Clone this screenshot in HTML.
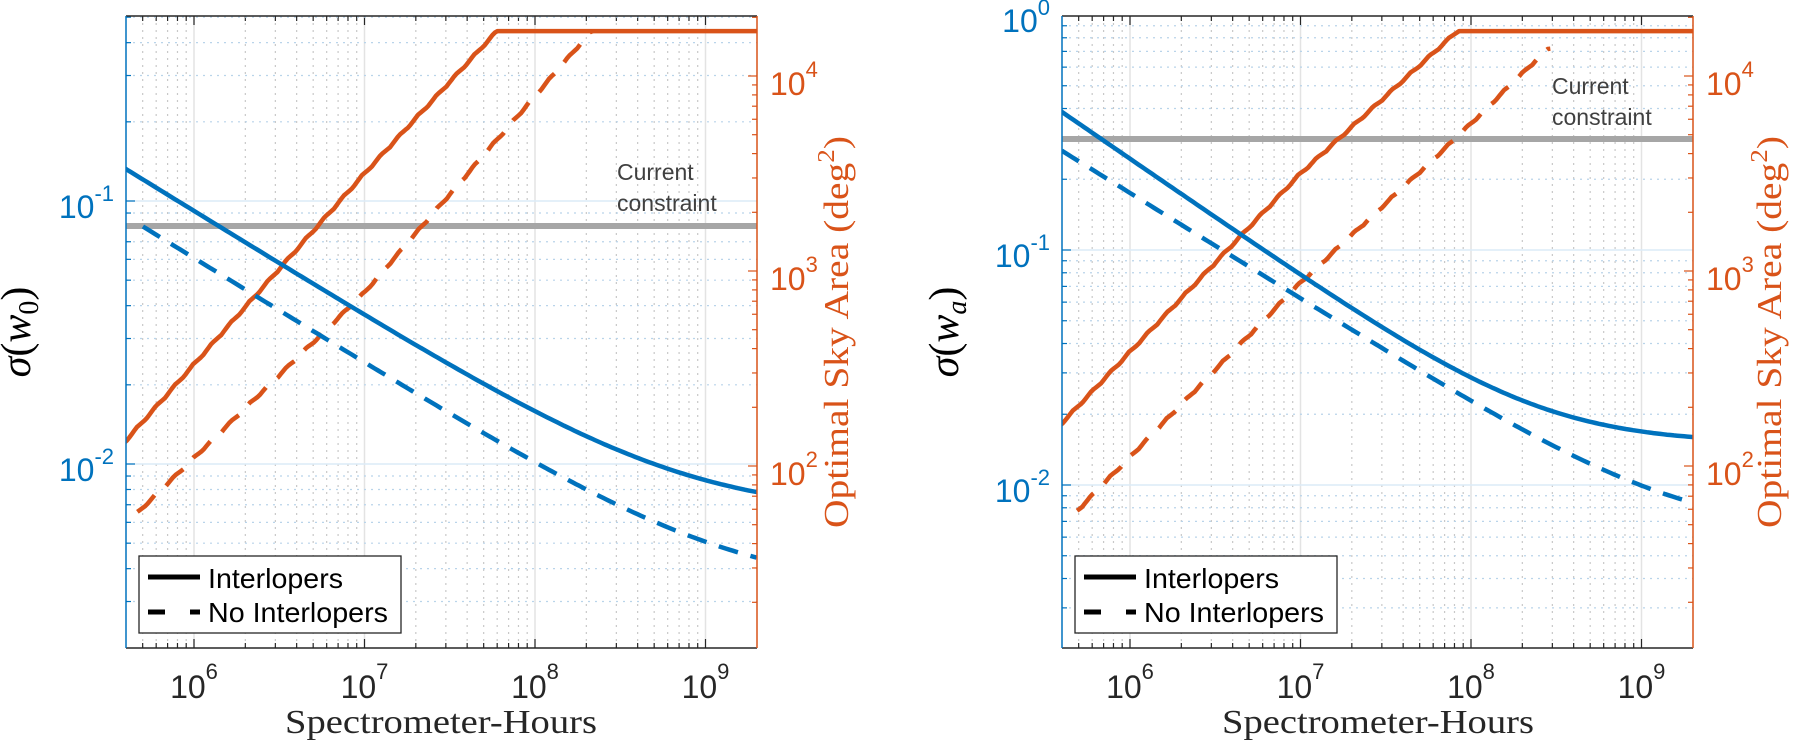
<!DOCTYPE html>
<html><head><meta charset="utf-8">
<style>html,body{margin:0;padding:0;background:#fff;}svg{display:block}</style>
</head><body>
<svg id="s" xmlns="http://www.w3.org/2000/svg" width="1800" height="746" viewBox="0 0 1800 746"></svg>
<script>
const S=document.getElementById('s');
let out='';
const BLUE='#0072BD',OR='#D95319';
function lg(v){return Math.log10(v);}
function plot(P){
  const X=L=>P.x0+(L-6)*170.5;
  const YL=L=>P.yl0-P.dec*(L+1);
  const YR=L=>76-195*(L-4);
  const xl=P.xa,xr=P.xb,yt=16,yb=648;
  let g='';
  for(let n=5;n<=9;n++)for(let k=1;k<10;k++){
    const L=n+lg(k),x=X(L); if(x<xl+1||x>xr-1)continue;
    if(k==1) g+=`<line x1="${x}" y1="${yt}" x2="${x}" y2="${yb}" stroke="#e3e3e3" stroke-width="1.5"/>`;
    else g+=`<line x1="${x}" y1="${yt}" x2="${x}" y2="${yb}" stroke="#c8c8c8" stroke-width="1.2" stroke-dasharray="2 5"/>`;
    const tl=k==1?9:5;
    g+=`<line x1="${x}" y1="${yb}" x2="${x}" y2="${yb-tl}" stroke="#262626" stroke-width="1.2"/><line x1="${x}" y1="${yt}" x2="${x}" y2="${yt+tl}" stroke="#262626" stroke-width="1.2"/>`;
  }
  for(let n=-3;n<=0;n++)for(let k=1;k<10;k++){
    const L=n+lg(k),y=YL(L); if(y<yt+1||y>yb-1)continue;
    if(k==1) g+=`<line x1="${xl}" y1="${y}" x2="${xr}" y2="${y}" stroke="#dcebf7" stroke-width="1.5"/>`;
    else g+=`<line x1="${xl}" y1="${y}" x2="${xr}" y2="${y}" stroke="#b9d4ea" stroke-width="1.2" stroke-dasharray="2 5"/>`;
    const tl=k==1?9:5;
    g+=`<line x1="${xl}" y1="${y}" x2="${xl+tl}" y2="${y}" stroke="${BLUE}" stroke-width="1.2"/>`;
  }
  for(let n=1;n<=4;n++)for(let k=1;k<10;k++){
    const L=n+lg(k),y=YR(L); if(y<yt+1||y>yb-1)continue;
    const tl=k==1?9:5;
    g+=`<line x1="${xr}" y1="${y}" x2="${xr-tl}" y2="${y}" stroke="${OR}" stroke-width="1.2"/>`;
  }
  const clip=`clip-path="url(#c${P.id})"`;
  g+=`<defs><clipPath id="c${P.id}"><rect x="${xl}" y="${yt}" width="${xr-xl}" height="${yb-yt}"/></clipPath></defs>`;
  g+=`<line x1="${xl}" y1="${P.gray}" x2="${xr}" y2="${P.gray}" stroke="#a6a6a6" stroke-width="6"/>`;
  function blue(a,p,c,L0,dash){
    let pts=[];
    for(let L=L0;L<=9.31;L+=0.02){const x=Math.pow(10,L);const s=Math.sqrt(a*Math.pow(x,-p)+c);pts.push(X(L).toFixed(1)+','+YL(lg(s)).toFixed(1));}
    g+=`<polyline ${clip} points="${pts.join(' ')}" fill="none" stroke="${BLUE}" stroke-width="4.5" ${dash?'stroke-dasharray="20 13"':''}/>`;
  }
  function orange(nodes,dash){
    let pts=[];
    const Lend=nodes[nodes.length-1][0];
    for(let L=nodes[0][0];L<=9.31;L+=0.015){
      let v;
      if(L>=Lend){v=nodes[nodes.length-1][1];}
      else{for(let i=0;i<nodes.length-1;i++){if(L>=nodes[i][0]&&L<=nodes[i+1][0]){const t=(L-nodes[i][0])/(nodes[i+1][0]-nodes[i][0]);v=nodes[i][1]+t*(nodes[i+1][1]-nodes[i][1]);}}
        const ph=(L/0.11)%1; v+=0.012*(ph<0.5?ph*2-0.5:1.5-ph*2);}
      pts.push(X(L).toFixed(1)+','+YR(v).toFixed(1));
      if(dash&&L>=Lend)break;
    }
    g+=`<polyline ${clip} points="${pts.join(' ')}" fill="none" stroke="${OR}" stroke-width="4.5" stroke-linejoin="round" ${dash?'stroke-dasharray="24 15"':''}/>`;
  }
  orange(P.os,false);orange(P.od,true);
  blue(...P.bs,5.59,false);blue(...P.bd,P.bdL,true);
  g+=`<line x1="${xl}" y1="${yt}" x2="${xr}" y2="${yt}" stroke="#262626" stroke-width="1.5"/>`;
  g+=`<line x1="${xl}" y1="${yb}" x2="${xr}" y2="${yb}" stroke="#262626" stroke-width="1.5"/>`;
  g+=`<line x1="${xl}" y1="${yt}" x2="${xl}" y2="${yb}" stroke="${BLUE}" stroke-width="1.5"/>`;
  g+=`<line x1="${xr}" y1="${yt}" x2="${xr}" y2="${yb}" stroke="${OR}" stroke-width="1.5"/>`;
  const F='font-family="Liberation Sans, sans-serif"';
  for(let n=6;n<=9;n++){g+=`<text x="${X(n)}" y="698" ${F} font-size="32" fill="#262626" text-anchor="middle">10<tspan font-size="22" dy="-19">${n}</tspan></text>`;}
  for(const n of P.yt){const y=YL(n);g+=`<text x="${xl-12}" y="${y+17}" ${F} font-size="32" fill="${BLUE}" text-anchor="end">10<tspan font-size="22" dy="-17">${n}</tspan></text>`;}
  for(const n of [2,3,4]){const y=YR(n);g+=`<text x="${xr+13}" y="${y+19}" ${F} font-size="32" fill="${OR}">10<tspan font-size="22" dy="-18">${n}</tspan></text>`;}
  g+=`<text x="${P.xlc}" y="733" font-family="Liberation Serif, serif" font-size="34" fill="#262626" text-anchor="middle" textLength="312" lengthAdjust="spacingAndGlyphs">Spectrometer-Hours</text>`;
  g+=`<text transform="translate(${P.ylx},332) rotate(-90)" font-family="Liberation Serif, serif" font-size="42" fill="#000" text-anchor="middle"><tspan font-style="italic">σ</tspan>(<tspan font-style="italic">w</tspan><tspan font-size="28" dy="8" ${P.sub=='a'?'font-style="italic"':''}>${P.sub}</tspan><tspan dy="-8">)</tspan></text>`;
  g+=`<text transform="translate(${P.yrx},332) rotate(-90)" font-family="Liberation Serif, serif" font-size="35" fill="${OR}" text-anchor="middle" textLength="392" lengthAdjust="spacingAndGlyphs">Optimal Sky Area (deg<tspan font-size="24" dy="-14">2</tspan><tspan dy="14">)</tspan></text>`;
  g+=`<text x="${P.ccx}" y="${P.ccy}" ${F} font-size="23" fill="#404040">Current</text><text x="${P.ccx}" y="${P.ccy+31}" ${F} font-size="23" fill="#404040">constraint</text>`;
  const lx=xl+13;
  g+=`<rect x="${lx}" y="556" width="262" height="77" fill="#fff" stroke="#262626" stroke-width="1.3"/>`;
  g+=`<line x1="${lx+9}" y1="577" x2="${lx+61}" y2="577" stroke="#000" stroke-width="5"/>`;
  g+=`<line x1="${lx+9}" y1="612" x2="${lx+26}" y2="612" stroke="#000" stroke-width="5"/><line x1="${lx+51}" y1="612" x2="${lx+61}" y2="612" stroke="#000" stroke-width="5"/>`;
  g+=`<text x="${lx+69}" y="588" ${F} font-size="28" fill="#000" textLength="135" lengthAdjust="spacingAndGlyphs">Interlopers</text>`;
  g+=`<text x="${lx+69}" y="622" ${F} font-size="28" fill="#000" textLength="180" lengthAdjust="spacingAndGlyphs">No Interlopers</text>`;
  out+=g;
}
plot({id:1,x0:194,xa:126,xb:757,yl0:201,dec:263,gray:226,yt:[-2,-1],
  bs:[528,0.8,4.2e-5],bd:[232,0.8,1.1e-5],bdL:5.70,
  os:[[5.59,2.12],[7.0,3.50],[7.777,4.23]],
  od:[[5.668,1.76],[7.0,2.89],[8.33,4.23]],
  xlc:441,ylx:30,yrx:848,sub:'0',ccx:617,ccy:180});
plot({id:2,x0:1130,xa:1062,xb:1693,yl0:250,dec:235,gray:139,yt:[-2,-1,0],
  bs:[59600,1.0,2.26e-4],bd:[7670,0.9,3.8e-5],bdL:5.60,
  os:[[5.59,2.21],[7.0,3.50],[7.92,4.23]],
  od:[[5.69,1.77],[7.0,2.94],[7.91,3.68],[8.45,4.14]],
  xlc:1378,ylx:958,yrx:1781,sub:'a',ccx:1552,ccy:94});
S.innerHTML=out;
</script>
</body></html>
